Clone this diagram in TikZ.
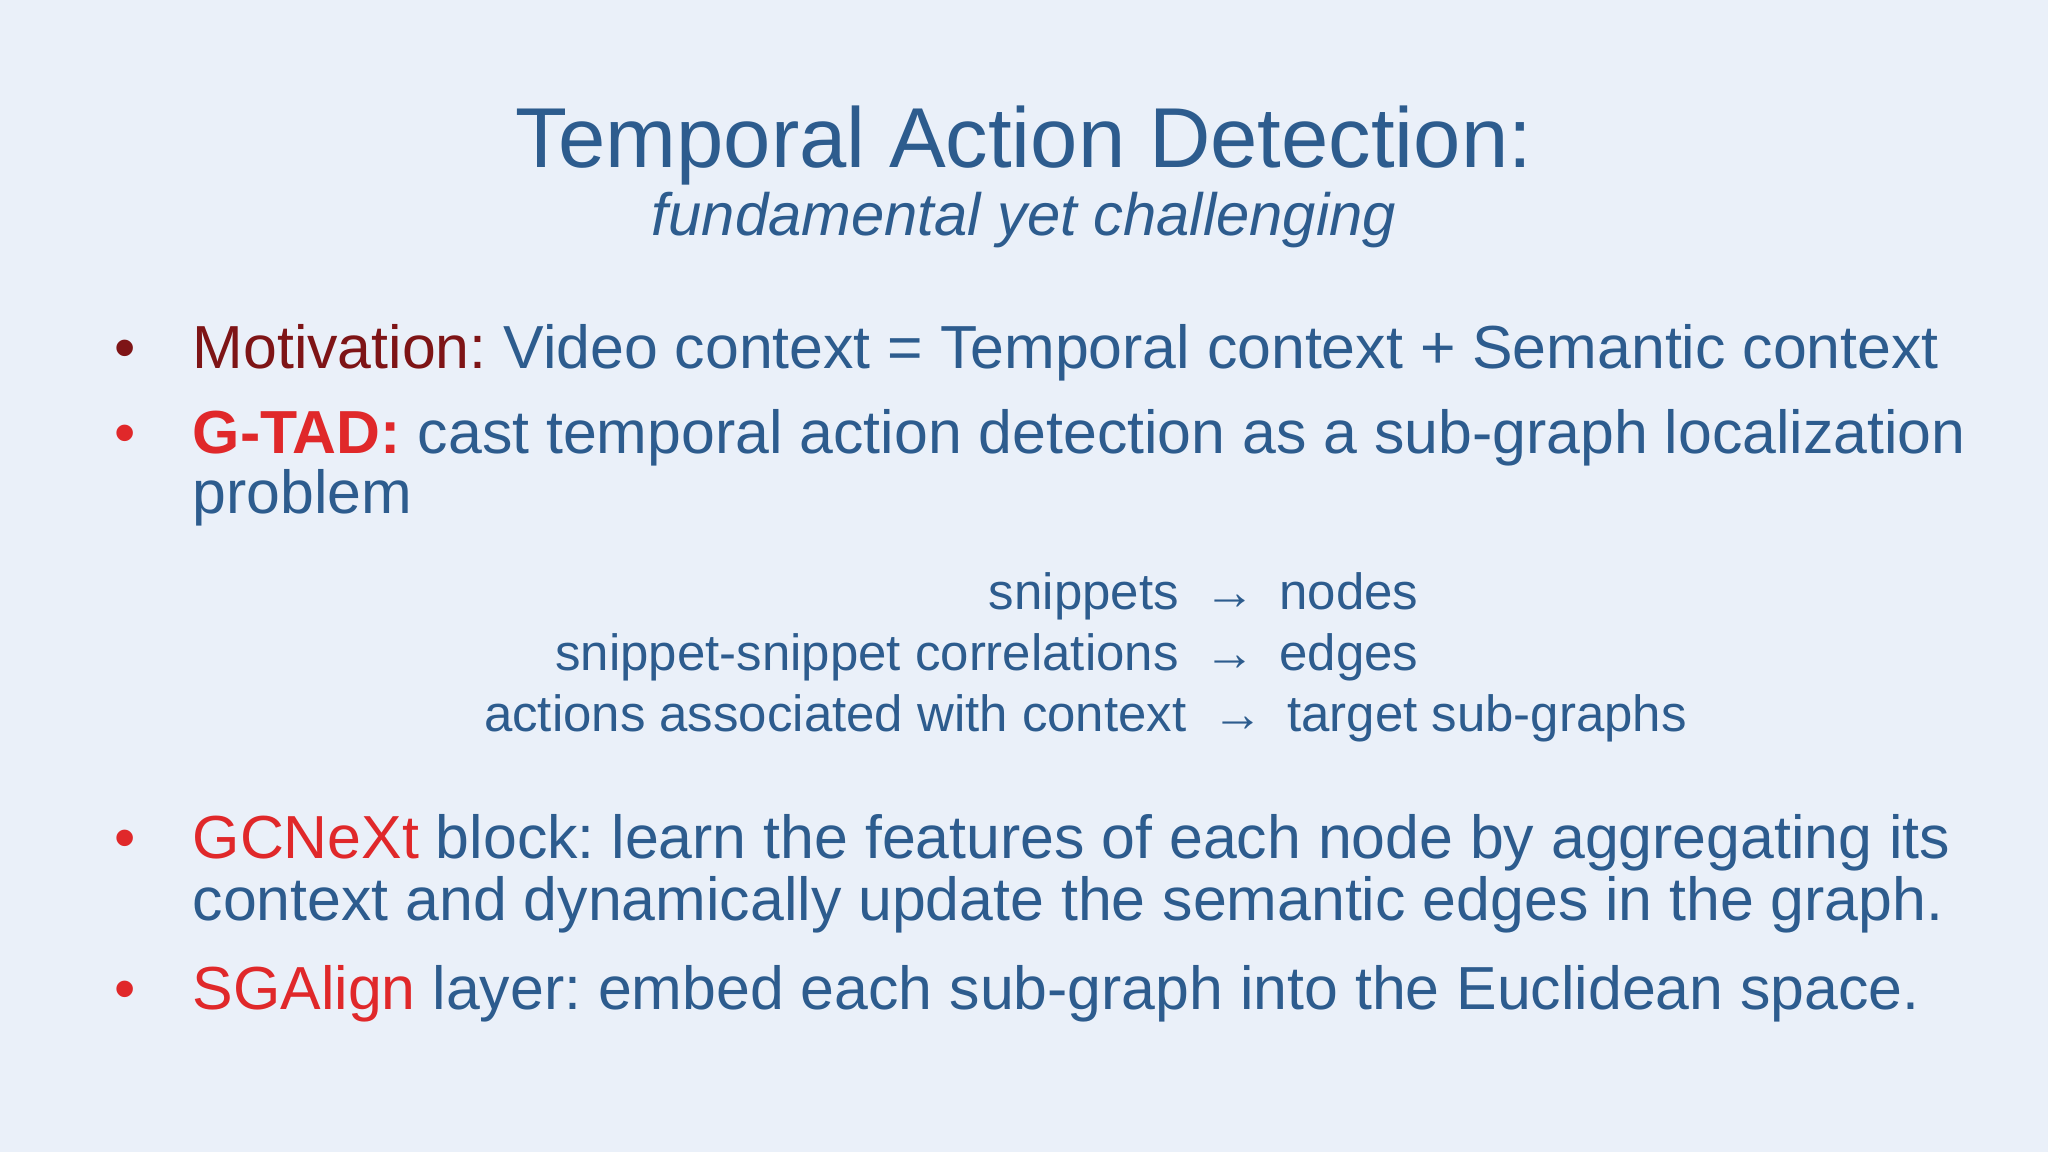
\documentclass[tikz,border=0pt]{standalone}
\usepackage{fontspec}
\setmainfont{Liberation Sans}
\usetikzlibrary{positioning}
\definecolor{slidebg}{HTML}{EAF0F9}
\definecolor{slideblue}{HTML}{2D5C8E}
\definecolor{motivred}{HTML}{7E1416}
\definecolor{keyred}{HTML}{E0282A}
\frenchspacing

\tikzset{title/.style =
        {
            anchor=base,
            inner sep=0pt,
            text=slideblue,
            font=\fontsize{24.2}{30}\selectfont
        }
}

\tikzset{subtitle/.style =
        {
            title,
            font=\fontsize{17}{20}\selectfont\itshape
        }
}

\tikzset{item/.style =
        {
            anchor=base west,
            inner sep=0pt,
            text=slideblue,
            font=\fontsize{17.3}{22}\selectfont
        }
}

\tikzset{dot/.style =
        {
            item,
            anchor=base,
            text=keyred
        }
}

\tikzset{mapping/.style =
        {
            inner sep=0pt,
            text=slideblue,
            font=\fontsize{14.5}{17}\selectfont
        }
}

\begin{document}
\begin{tikzpicture}[x=0.01306cm, y=-0.01306cm]
		\fill[slidebg] (0,0) rectangle (1568,882);
		\useasboundingbox (0,0) rectangle (1568,882);

		\node[title] (title) at (784,128) {Temporal Action Detection:};
		\node[subtitle] (subtitle) at (784,180) {fundamental yet challenging};

		\node[dot, text=motivred] (dot-1) at (96,282) {•};
		\node[item] (item-1) at (147,282) {\textcolor{motivred}{Motivation:} Video context = Temporal context + Semantic context};

		\node[dot] (dot-2) at (96,347) {•};
		\node[item] (item-2) at (147,347) {\textcolor{keyred}{\textbf{G-TAD:}} cast temporal action detection as a sub-graph localization};
		\node[item] (item-2b) at (147,393) {problem};

		\foreach \n / \y / \ax / \from / \to in
			{1/467/942/snippets/nodes,
				2/513/942/snippet-snippet correlations/edges,
				3/560/948/actions associated with context/target sub-graphs}
			{
				\node[mapping, anchor=base] (arrow-\n) at (\ax,\y) {→};
				\node[mapping, anchor=base east] (from-\n) at (\ax-39,\y) {\from};
				\node[mapping, anchor=base west] (to-\n) at (\ax+37,\y) {\to};
			}

		\node[dot] (dot-3) at (96,657) {•};
		\node[item] (item-3) at (147,657) {\textcolor{keyred}{GCNeXt} block: learn the features of each node by aggregating its};
		\node[item] (item-3b) at (147,705) {context and dynamically update the semantic edges in the graph.};

		\node[dot] (dot-4) at (96,773) {•};
		\node[item] (item-4) at (147,773) {\textcolor{keyred}{SGAlign} layer: embed each sub-graph into the Euclidean space.};
	\end{tikzpicture}
\end{document}
